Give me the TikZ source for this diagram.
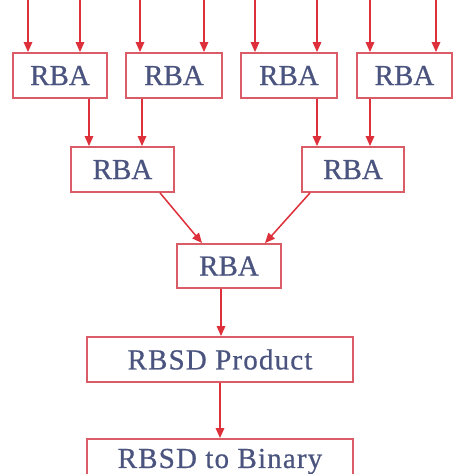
\documentclass[tikz,border=0pt]{standalone}
\usepackage{fontspec}
\setmainfont{Liberation Serif}[FakeBold=0.6]
\usetikzlibrary{arrows.meta}
\definecolor{boxred}{RGB}{218,92,102}
\definecolor{arrred}{RGB}{222,48,58}
\definecolor{txtblue}{RGB}{74,84,126}
\tikzset{
  x=1pt, y=-1pt,
  blk/.style={draw=boxred, line width=1.8pt, fill=white, inner sep=0pt,
    minimum height=45pt, text=txtblue,
    font=\fontsize{29}{30}\selectfont},
  wide/.style={font=\fontsize{29}{30}\selectfont\addfontfeature{LetterSpace=4}},
  arr/.style={draw=arrred, line width=1.5pt, -{Triangle[length=10pt,width=8.5pt]}}
}
\begin{document}
\begin{tikzpicture}
\useasboundingbox (0,0) rectangle (474,474);
\clip (0,0) rectangle (474,474);
\fill[white] (0,0) rectangle (474,474);
% top row
\node[blk, minimum width=94pt] (b1) at (60,75.5) {RBA};
\node[blk, minimum width=96pt] (b2) at (174,75.5) {RBA};
\node[blk, minimum width=96pt] (b3) at (289,75.5) {RBA};
\node[blk, minimum width=95pt] (b4) at (404.5,75.5) {RBA};
% second row
\node[blk, minimum width=103pt] (m1) at (122.5,169.5) {RBA};
\node[blk, minimum width=102pt] (m2) at (353,169.5) {RBA};
% third
\node[blk, minimum width=104pt, minimum height=44pt] (r) at (229,266) {RBA};
\node[blk, wide, minimum width=266pt] (p) at (220,359.5) {RBSD Product};
\node[blk, wide, minimum width=266pt] (bin) at (220,461.5) {RBSD to Binary};
% inputs
\foreach \n/\xa/\xb in {1/28/80, 2/140/204, 3/255/317, 4/370/436}{
  \coordinate (i\n a) at (\xa,-2);
  \coordinate (i\n b) at (\xb,-2);
  \draw[arr] (i\n a) -- (i\n a |- b\n.north);
  \draw[arr] (i\n b) -- (i\n b |- b\n.north);
}
% level 2
\draw[arr] ([xshift=29pt]b1.south) -- ([xshift=29pt]b1.south |- m1.north);
\draw[arr] ([xshift=-32pt]b2.south) -- ([xshift=-32pt]b2.south |- m1.north);
\draw[arr] ([xshift=28pt]b3.south) -- ([xshift=28pt]b3.south |- m2.north);
\draw[arr] ([xshift=-34.5pt]b4.south) -- ([xshift=-34.5pt]b4.south |- m2.north);
% level 3
\draw[arr] ([xshift=37.5pt]m1.south) -- ([xshift=-27pt]r.north);
\draw[arr] ([xshift=-43pt]m2.south) -- ([xshift=36pt]r.north);
% output chain
\draw[arr] ([xshift=-8pt]r.south) -- ([xshift=-8pt]r.south |- p.north);
\draw[arr] (p.south) -- (bin.north);
\end{tikzpicture}
\end{document}
